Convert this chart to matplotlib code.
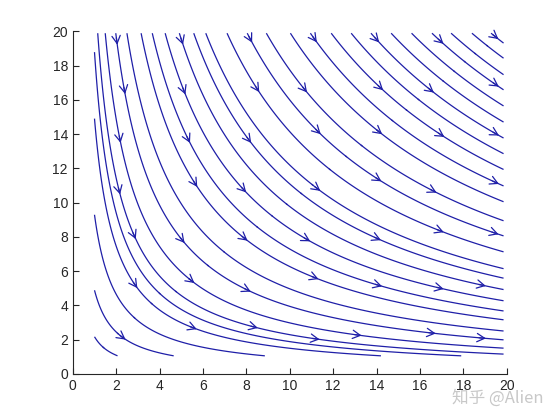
import numpy as np
import matplotlib
matplotlib.use("Agg")
from matplotlib import pyplot as plt

# vector field u = x, v = -y on the sampled region
grid_x = np.linspace(1.0, 19.85, 60)
grid_y = np.linspace(1.05, 19.9, 60)

# streamline seeds
seed_right_x = 19.7
seed_right_y = [1.16, 1.51, 2.0, 2.52, 3.18, 3.70, 4.30, 4.96, 5.63, 6.19, 7.18, 8.12,
                9.01, 10.13, 11.06, 12.03, 12.96, 13.88, 14.82, 15.77, 16.72, 17.61, 18.58, 19.47]
seed_left_x = [1.1, 1.05, 1.05, 1.05, 1.05]
seed_left_y = [1.97, 4.65, 8.85, 14.2, 17.9]

# arrow positions (approx. centres of the heads)
arrow_x = [2.04, 5.03, 8.12, 11.03, 13.93, 16.92, 19.46,
           2.41, 5.08, 8.40, 10.70, 14.06, 16.46, 19.46,
           2.27, 5.22, 8.07, 11.25, 14.02, 16.92, 19.46,
           2.08, 5.63, 7.80, 11.25, 14.02, 16.60, 19.46,
           2.77, 5.08, 7.84, 10.79, 14.02, 16.92, 19.46,
           2.77, 5.58, 8.07, 11.16, 14.06, 16.92, 18.86,
           2.27, 5.54, 8.35, 11.20, 13.14, 16.55, 18.86]
arrow_y = [19.46, 19.46, 19.52, 19.46, 19.46, 19.40, 19.69,
           16.58, 16.52, 16.58, 16.64, 16.58, 16.52, 16.87,
           13.75, 13.64, 13.64, 14.11, 13.99, 13.87, 13.99,
           10.69, 11.11, 10.69, 10.81, 11.28, 10.69, 11.16,
           8.05, 7.87, 7.81, 7.87, 7.87, 8.34, 8.28,
           5.11, 5.64, 4.99, 5.64, 5.11, 5.05, 5.22,
           2.11, 2.69, 2.75, 2.11, 2.40, 2.46, 2.16]

ticks = list(range(0, 21, 2))

LINE = "#1f1fa8"
AXC = "#262626"

X, Y = np.meshgrid(grid_x, grid_y)
U = X
V = -Y

seeds = [(seed_right_x, y) for y in seed_right_y] + list(zip(seed_left_x, seed_left_y))

fig = plt.figure(figsize=(5.6, 4.2), dpi=100)
ax = fig.add_axes([0.13, 0.11, 0.775, 0.815])
sp = ax.streamplot(X, Y, U, V, start_points=np.array(seeds), color=LINE, linewidth=0.9,
                   arrowstyle="-", broken_streamlines=False, density=5, minlength=0.005)

ax.set_xlim(0, 20)
ax.set_ylim(0, 20)
ax.set_xticks(ticks)
ax.set_yticks(ticks)
for s in ["top", "right"]:
    ax.spines[s].set_visible(False)
for s in ["left", "bottom"]:
    ax.spines[s].set_color(AXC)
    ax.spines[s].set_linewidth(0.8)
ax.tick_params(direction="in", length=4, width=0.8, colors=AXC, labelsize=10)
for lab in ax.get_xticklabels() + ax.get_yticklabels():
    lab.set_family("Liberation Sans")

# snap arrows onto the nearest drawn streamline (closest point on a segment)
starts, ends = [], []
for line in sp.lines.get_segments():
    line = np.asarray(line)
    if len(line) < 2:
        continue
    starts.append(line[:-1])
    ends.append(line[1:])
sd = ax.transData.transform(np.vstack(starts))
ed = ax.transData.transform(np.vstack(ends))
inv = ax.transData.inverted()
for ax_x, ax_y in zip(arrow_x, arrow_y):
    p = ax.transData.transform((ax_x, ax_y))
    seg = ed - sd
    t = np.sum((p - sd) * seg, axis=1) / np.maximum(np.sum(seg ** 2, axis=1), 1e-12)
    t = np.clip(t, 0, 1)
    proj = sd + seg * t[:, None]
    i = np.argmin(np.sum((proj - p) ** 2, axis=1))
    dd = seg[i] / np.hypot(*seg[i])
    if dd[0] < 0:
        dd = -dd
    tip = inv.transform(proj[i] + 4 * dd)
    tail = inv.transform(proj[i] - 3 * dd)
    ax.annotate("", xy=tip, xytext=tail,
                arrowprops=dict(arrowstyle="->,head_length=0.55,head_width=0.3",
                                color=LINE, lw=0.9, shrinkA=0, shrinkB=0))

fig.text(0.807, 0.052, "知乎 @Alien", family=["Noto Sans CJK SC", "DejaVu Sans"],
         fontsize=12, color="#c8c8c8", va="center", ha="left")

plt.savefig("out.png", dpi=100)
